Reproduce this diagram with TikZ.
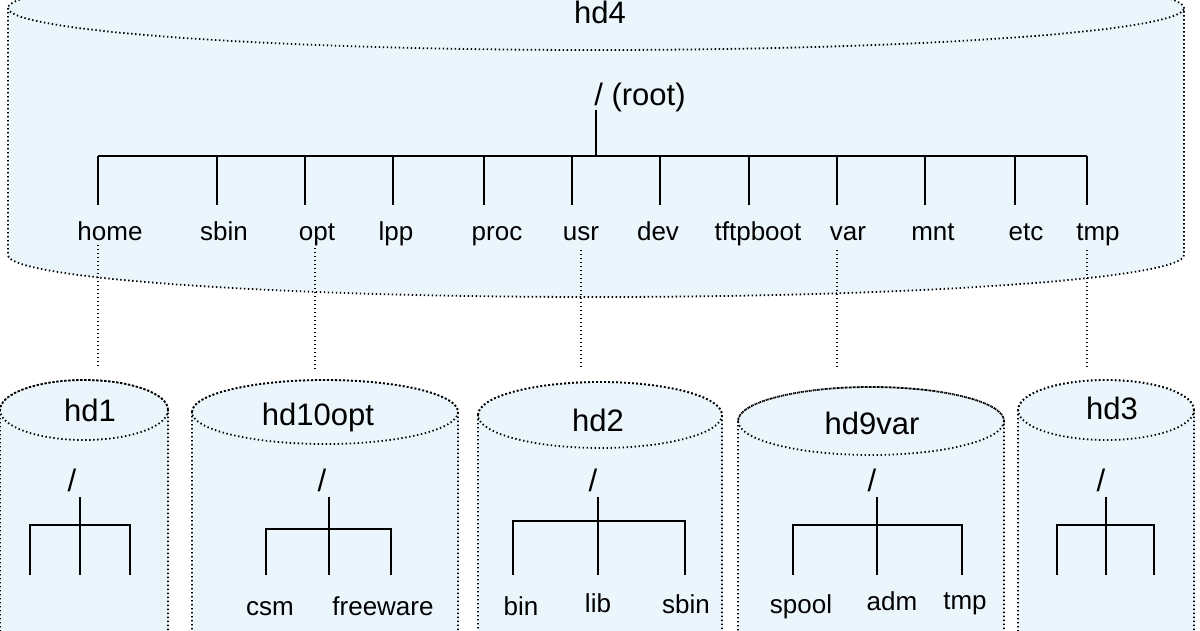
\documentclass[tikz,border=0pt]{standalone}
\usepackage{fontspec}
\setmainfont{Liberation Sans}
\begin{document}
\begin{tikzpicture}[x=1pt,y=-1pt,
  cyl/.style={fill=bluefill,draw=black,line width=1.8pt,dash pattern=on 1.4pt off 2.6pt},
  tree/.style={draw=black,line width=2.4pt},
  lbl/.style={font=\fontsize{26}{28}\selectfont,inner sep=0pt},
  big/.style={font=\fontsize{31}{33}\selectfont,inner sep=0pt},
  conn/.style={draw=black,line width=1.8pt,dash pattern=on 1.4pt off 2.6pt}]
\definecolor{bluefill}{HTML}{EAF5FC}
\useasboundingbox (0,0) rectangle (1200,630);
\clip (0,0) rectangle (1200,630);
% big cylinder
\path[cyl] (8,8) -- (8,255) arc[start angle=180,end angle=0,x radius=588,y radius=42] -- (1184,8) arc[start angle=0,end angle=-180,x radius=588,y radius=42];
\path[cyl,fill=none] (8,8) arc[start angle=180,end angle=0,x radius=588,y radius=42];
\node[big] (hd4) at (600,12) {hd4};
\node[big] (root) at (640,97) {/ (root)};
\coordinate (rs) at (596,110);
\coordinate (rh) at (596,156);
\draw[tree] (rs) -- (rh);
\draw[tree] (98,156) -- (1087,156);
\foreach \x/\lx/\t/\n in {98/110/home/home,217/224/sbin/sbin,305/317/opt/opt,393/396/lpp/lpp,484/497/proc/proc,572/581/usr/usr,660/658/dev/dev,749/758/tftpboot/tftp,837/848/var/var,925/933/mnt/mnt,1015/1026/etc/etc,1087/1098/tmp/tmp}{
  \draw[tree] (\x,156) -- (\x,205);
  \node[lbl,anchor=base] (\n) at (\lx,240) {\t};
}
% small cylinders
\foreach \cx/\cy/\rx/\ry/\n in {84/410/84/30/c1,325/412/133/32/c2,600/415/122/33/c3,871/421/133/34/c4,1106/410/88/30/c5}{
  \path[cyl] (\cx-\rx,\cy) -- (\cx-\rx,640) -- (\cx+\rx,640) -- (\cx+\rx,\cy) arc[start angle=0,end angle=-180,x radius=\rx,y radius=\ry];
  \path[cyl,fill=none] (\cx,\cy) ellipse[x radius=\rx,y radius=\ry];
  \coordinate (\n) at (\cx,\cy-\ry);
}
\coordinate (k1) at (98,245); \coordinate (e1) at (98,366);
\coordinate (k2) at (315,248); \coordinate (e2) at (315,370);
\coordinate (k3) at (581,250); \coordinate (e3) at (581,368);
\coordinate (k4) at (837,250); \coordinate (e4) at (837,368);
\coordinate (k5) at (1087,250); \coordinate (e5) at (1087,368);
\foreach \i in {1,...,5}{\draw[conn] (k\i) -- (e\i);}
% cylinder contents
\node[big] (l1) at (90,410) {hd1};
\node[big] (l2) at (318,417) {hd10opt};
\node[big] (l3) at (598,420) {hd2};
\node[big] (l4) at (872,423) {hd9var};
\node[big] (l5) at (1112,408) {hd3};
\foreach \sx/\st/\hl/\hr/\hy/\n in {72/80/30/130/525/s1,322/329/266/391/529/s2,593/598/513/685/521/s3,872/877/793/962/525/s4,1101/1106/1057/1154/525/s5}{
  \node[big] (\n) at (\sx,480) {/};
  \draw[tree] (\st,497) -- (\st,575);
  \draw[tree] (\hl,575) -- (\hl,\hy) -- (\hr,\hy) -- (\hr,575);
}
\node[lbl,anchor=base] (csm) at (270,615) {csm};
\node[lbl,anchor=base] (free) at (383,615) {freeware};
\node[lbl,anchor=base] (bin) at (521,615) {bin};
\node[lbl,anchor=base] (lib) at (598,612) {lib};
\node[lbl,anchor=base] (sbin2) at (686,613) {sbin};
\node[lbl,anchor=base] (spool) at (801,613) {spool};
\node[lbl,anchor=base] (adm) at (892,610) {adm};
\node[lbl,anchor=base] (tmp2) at (965,609) {tmp};
\end{tikzpicture}
\end{document}
